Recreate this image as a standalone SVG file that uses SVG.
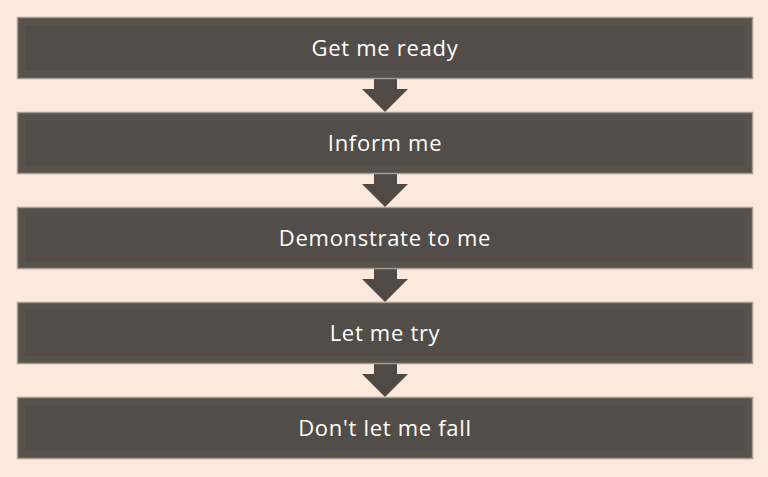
<svg xmlns="http://www.w3.org/2000/svg" width="768" height="477" viewBox="0 0 768 477">
<style>
.box{fill:#524d48;stroke:#a59c94;stroke-width:1.5}
.inner{fill:none;stroke:#5c5650;stroke-width:6;opacity:0.6}
.lbl{fill:#ffffff;font-family:"Open Sans","Liberation Sans",sans-serif;font-size:22px;letter-spacing:0.7px;text-anchor:middle}
.arr{fill:#4f4a45}
</style>
<rect width="768" height="477" fill="#fce9db"/>
<g id="connectors">
<polygon class="arr" points="374,79 397,79 397,89 408,89 385,112 362,89 374,89"/>
<polygon class="arr" points="374,174 397,174 397,184 408,184 385,207 362,184 374,184"/>
<polygon class="arr" points="374,269 397,269 397,279 408,279 385,302 362,279 374,279"/>
<polygon class="arr" points="374,364 397,364 397,374 408,374 385,397 362,374 374,374"/>
</g>
<g id="n1"><rect class="box" x="17.5" y="17.5" width="735" height="61"/><rect class="inner" x="22" y="22" width="726" height="52"/><text class="lbl" x="385" y="56">Get me ready</text></g>
<g id="n2"><rect class="box" x="17.5" y="112.5" width="735" height="61"/><rect class="inner" x="22" y="117" width="726" height="52"/><text class="lbl" x="385" y="151">Inform me</text></g>
<g id="n3"><rect class="box" x="17.5" y="207.5" width="735" height="61"/><rect class="inner" x="22" y="212" width="726" height="52"/><text class="lbl" x="385" y="246">Demonstrate to me</text></g>
<g id="n4"><rect class="box" x="17.5" y="302.5" width="735" height="61"/><rect class="inner" x="22" y="307" width="726" height="52"/><text class="lbl" x="385" y="341">Let me try</text></g>
<g id="n5"><rect class="box" x="17.5" y="397.5" width="735" height="61"/><rect class="inner" x="22" y="402" width="726" height="52"/><text class="lbl" x="385" y="436">Don't let me fall</text></g>
</svg>
